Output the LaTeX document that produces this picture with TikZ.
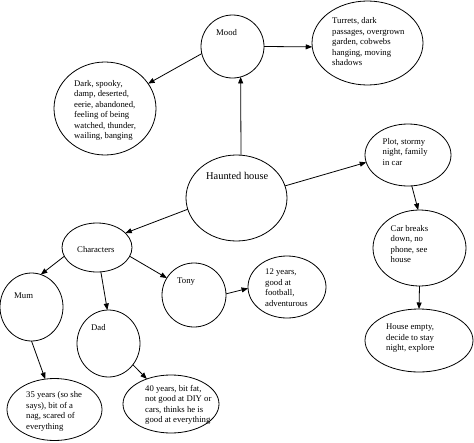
\documentclass[tikz,border=0pt]{standalone}
\usepackage{fontspec}
\setmainfont{Liberation Serif}
\usetikzlibrary{shapes.geometric,arrows.meta}
\tikzset{
  bub/.style={draw=black, line width=0.8pt, ellipse, inner sep=0pt, outer sep=0pt},
  txt/.style={anchor=north west, inner sep=0pt, align=left, font=\fontsize{8.7}{10.5}\selectfont},
  bigtxt/.style={anchor=north west, inner sep=0pt, align=left, font=\fontsize{10.4}{12}\selectfont},
  arr/.style={draw=black, line width=0.8pt, -{Triangle[length=6.5pt,width=5pt]}}
}
\begin{document}
\begin{tikzpicture}[x=1pt,y=-1pt]
\useasboundingbox (0,0) rectangle (474,442);
% ellipses
\node[bub, minimum width=63pt, minimum height=63pt] (mood) at (232.5,46.5) {};
\node[bub, minimum width=111pt, minimum height=84pt] (turrets) at (367.5,43) {};
\node[bub, minimum width=102pt, minimum height=93pt] (dark) at (105,108.5) {};
\node[bub, minimum width=101pt, minimum height=86pt] (hh) at (236.5,198) {};
\node[bub, minimum width=86pt, minimum height=62pt] (plot) at (408,155) {};
\node[bub, minimum width=93pt, minimum height=76pt] (car) at (419.5,248) {};
\node[bub, minimum width=108pt, minimum height=63pt] (empty) at (419,340.5) {};
\node[bub, minimum width=78pt, minimum height=62pt] (twelve) at (287,287) {};
\node[bub, minimum width=70pt, minimum height=49pt] (chars) at (97,247.5) {};
\node[bub, minimum width=64pt, minimum height=64pt] (tony) at (194,295) {};
\node[bub, minimum width=63pt, minimum height=68pt] (mum) at (31.5,307) {};
\node[bub, minimum width=63pt, minimum height=67pt] (dad) at (108.5,343.5) {};
\node[bub, minimum width=95pt, minimum height=62pt] (thirtyfive) at (54.5,409.5) {};
\node[bub, minimum width=96pt, minimum height=58pt] (forty) at (171,404) {};
% texts
\node[txt] (tmood) at (216,29.5) {Mood};
\node[txt] (tturrets) at (332,17.5) {Turrets, dark\\passages, overgrown\\garden, cobwebs\\hanging, moving\\shadows};
\node[txt] (tdark) at (74,80) {Dark, spooky,\\damp, deserted,\\eerie, abandoned,\\feeling of being\\watched, thunder,\\wailing, banging};
\node[bigtxt] (thh) at (206,172.5) {Haunted house};
\node[txt] (tplot) at (382.5,138) {Plot, stormy\\night, family\\in car};
\node[txt] (tcar) at (390.5,225) {Car breaks\\down, no\\phone, see\\house};
\node[txt] (tempty) at (386,324) {House empty,\\decide to stay\\night, explore};
\node[txt] (ttwelve) at (265,269) {12 years,\\good at\\football,\\adventurous};
\node[txt] (tchars) at (77,246) {Characters};
\node[txt] (ttony) at (177,278) {Tony};
\node[txt] (tmum) at (14,292.5) {Mum};
\node[txt] (tdad) at (91,324) {Dad};
\node[txt] (tthirtyfive) at (26,391.5) {35 years (so she\\says), bit of a\\nag, scared of\\everything};
\node[txt] (tforty) at (145,385) {40 years, bit fat,\\not good at DIY or\\cars, thinks he is\\good at everything};
% connectors
\draw[arr] (hh.84) -- (mood.-75);
\draw[arr] (mood.193) -- (dark.30);
\draw[arr] (mood.0) -- (turrets.184);
\draw[arr] (hh.14) -- (plot.190);
\draw[arr] (plot.277) -- (car.92);
\draw[arr] (car.-90) -- (empty.90);
\draw[arr] (hh.193) -- (chars.27);
\draw[arr] (chars.195) -- (mum.74);
\draw[arr] (chars.-81) -- (dad.92);
\draw[arr] (chars.-15) -- (tony.148);
\draw[arr] (tony.2) -- (twelve.182);
\draw[arr] (mum.-90) -- (thirtyfive.107);
\draw[arr] (dad.-41) -- (forty.134);
\end{tikzpicture}
\end{document}
